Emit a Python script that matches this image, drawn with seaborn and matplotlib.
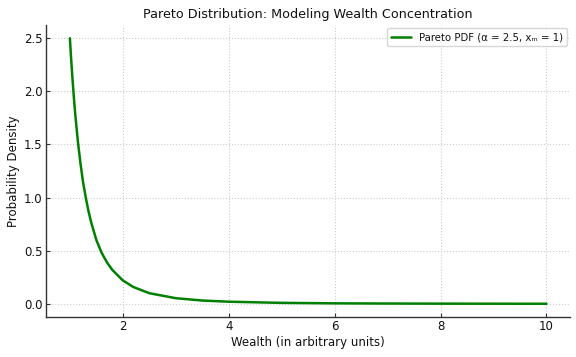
import matplotlib
matplotlib.use("Agg")
from matplotlib import pyplot as plt
import pandas as pd
import seaborn as sns

# values
wealth = [1.0, 1.02, 1.05, 1.08, 1.1, 1.15, 1.2, 1.25, 1.3, 1.35, 1.4, 1.5, 1.6, 1.7,
          1.8, 2.0, 2.2, 2.5, 3.0, 3.5, 4.0, 5.0, 6.0, 7.0, 8.0, 9.0, 10.0]
density = [2.5, 2.33, 2.11, 1.91, 1.79, 1.53, 1.32, 1.14, 1.00, 0.875, 0.77, 0.60, 0.48, 0.39,
           0.32, 0.22, 0.158, 0.10, 0.053, 0.031, 0.020, 0.009, 0.0047, 0.0028, 0.0017, 0.0011, 0.0008]
series_label = "Pareto PDF (α = 2.5, xₘ = 1)"

sns.set_style("ticks")
plt.rcParams['font.family'] = ['DejaVu Sans']
plt.rcParams['text.color'] = '#111111'
plt.rcParams['axes.labelcolor'] = '#111111'
plt.rcParams['xtick.color'] = '#333333'
plt.rcParams['ytick.color'] = '#333333'
plt.rcParams['xtick.labelcolor'] = '#111111'
plt.rcParams['ytick.labelcolor'] = '#111111'

df = pd.DataFrame({'x': wealth, 'y': density})

fig, ax = plt.subplots(figsize=(5.76, 3.57), dpi=100)
sns.lineplot(data=df, x='x', y='y', ax=ax, color='green', linewidth=1.8,
             label=series_label, sort=True)

ax.set_title("Pareto Distribution: Modeling Wealth Concentration", fontsize=9.2, pad=5)
ax.set_xlabel("Wealth (in arbitrary units)", fontsize=8.5, labelpad=2)
ax.set_ylabel("Probability Density", fontsize=8.5, labelpad=3)
ax.tick_params(labelsize=8.5, direction='in', length=3, width=0.8, pad=2.5)
ax.set_xticks([2, 4, 6, 8, 10])
ax.set_yticks([0.0, 0.5, 1.0, 1.5, 2.0, 2.5])
ax.grid(True, linestyle=':', color='#cccccc', linewidth=0.8)
for side in ["top", "right"]:
    ax.spines[side].set_visible(False)
for side in ["left", "bottom"]:
    ax.spines[side].set_color('#333333')
    ax.spines[side].set_linewidth(1.0)
leg = ax.legend(loc='upper right', fontsize=7.3, frameon=True, borderaxespad=0.3)
leg.get_frame().set_edgecolor('#cccccc')

fig.subplots_adjust(left=0.08, right=0.99, top=0.93, bottom=0.112)
fig.savefig("out.png", dpi=100)
